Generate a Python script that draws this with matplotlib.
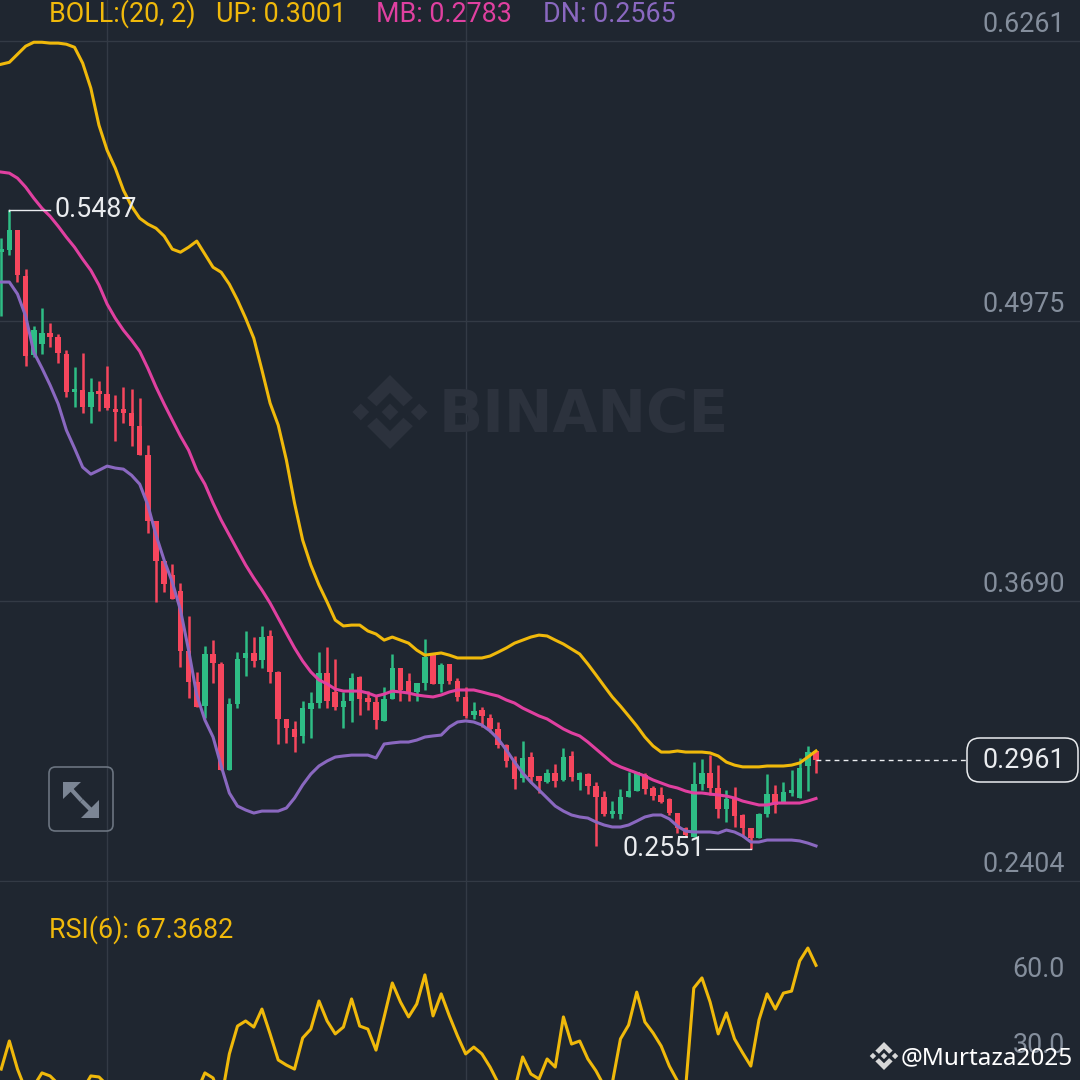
import matplotlib
matplotlib.use("Agg")
import matplotlib.pyplot as plt
import numpy as np
from matplotlib.patches import FancyBboxPatch, Polygon
from matplotlib.lines import Line2D
from matplotlib.transforms import offset_copy

plt.rcParams['font.family'] = ['Roboto', 'DejaVu Sans']

opens = [
    .5291, .5300, .5392, .5181, .4818, .4869, .4919, .4901, .4823, .4649,
    .4658, .4580, .4653, .4640, .4571, .4571, .4552, .4493, .4360, .4057,
    .3873, .3808, .3735, .3460, .3318, .3207, .3446, .3400, .2914, .3217,
    .3428, .3451, .3419, .3529, .3364, .3148, .3102, .3070, .3194, .3221,
    .3359, .3272, .3203, .3230, .3341, .3244, .3226, .3139, .3240, .3382,
    .3322, .3272, .3313, .3446, .3309, .3400, .3322, .3249, .3166, .3189,
    .3152, .3102, .3028, .2955, .2877, .2973, .2886, .2858, .2900, .2868,
    .2978, .2868, .2895, .2840, .2790, .2712, .2712, .2790, .2817, .2891,
    .2831, .2799, .2780, .2716, .2647, .2606, .2849, .2900, .2831, .2734,
    .2785, .2707, .2647, .2601, .2712, .2803, .2767, .2808, .2785, .2932,
    .3001]
closes = [
    .5300, .5392, .5186, .4814, .4933, .4919, .4901, .4827, .4649, .4662,
    .4580, .4649, .4640, .4575, .4557, .4552, .4493, .4360, .4057, .3873,
    .3767, .3699, .3460, .3318, .3203, .3446, .3405, .2914, .3217, .3423,
    .3451, .3414, .3524, .3364, .3148, .3106, .3065, .3198, .3221, .3359,
    .3230, .3203, .3230, .3336, .3240, .3226, .3143, .3240, .3382, .3281,
    .3272, .3313, .3433, .3309, .3396, .3322, .3249, .3162, .3184, .3162,
    .3102, .3028, .2955, .2872, .2969, .2881, .2863, .2900, .2863, .2973,
    .2881, .2900, .2840, .2790, .2712, .2725, .2790, .2817, .2904, .2826,
    .2794, .2767, .2716, .2647, .2615, .2849, .2900, .2831, .2734, .2780,
    .2702, .2647, .2601, .2712, .2803, .2753, .2813, .2822, .2923, .2996,
    .2961]
highs = [
    .5356, .5487, .5392, .5213, .4951, .5034, .4965, .4915, .4841, .4763,
    .4827, .4713, .4699, .4768, .4635, .4672, .4662, .4621, .4405, .4057,
    .3873, .3859, .3772, .3621, .3364, .3483, .3510, .3409, .3244, .3455,
    .3551, .3524, .3575, .3556, .3368, .3148, .3139, .3230, .3272, .3455,
    .3478, .3423, .3272, .3359, .3345, .3277, .3258, .3295, .3446, .3382,
    .3359, .3313, .3515, .3451, .3405, .3400, .3336, .3295, .3226, .3203,
    .3171, .3134, .3033, .2978, .3047, .2996, .2886, .2918, .2941, .3015,
    .3001, .2904, .2900, .2858, .2817, .2771, .2826, .2904, .2904, .2900,
    .2840, .2836, .2785, .2716, .2652, .2950, .2964, .2982, .2936, .2822,
    .2836, .2712, .2647, .2716, .2895, .2845, .2858, .2914, .2969, .3024,
    .3001]
lows = [
    .4998, .5278, .5154, .4768, .4809, .4823, .4855, .4782, .4626, .4580,
    .4552, .4507, .4561, .4566, .4424, .4507, .4401, .4360, .4002, .3685,
    .3731, .3699, .3386, .3244, .3203, .3152, .3313, .2914, .2914, .3198,
    .3345, .3386, .3382, .3313, .3033, .3038, .2996, .3038, .3060, .3198,
    .3198, .3189, .3106, .3134, .3166, .3189, .3102, .3139, .3240, .3230,
    .3230, .3230, .3281, .3309, .3272, .3309, .3230, .3152, .3148, .3111,
    .3088, .3015, .2928, .2826, .2858, .2854, .2808, .2854, .2836, .2863,
    .2863, .2822, .2803, .2565, .2702, .2693, .2689, .2790, .2817, .2803,
    .2776, .2762, .2707, .2624, .2606, .2606, .2822, .2799, .2693, .2675,
    .2652, .2606, .2551, .2601, .2698, .2716, .2762, .2794, .2785, .2817,
    .2900]

boll_up = [
    .6154, .6163, .6200, .6237, .6255, .6255, .6251, .6251, .6246, .6232,
    .6159, .6044, .5874, .5759, .5677, .5576, .5502, .5447, .5420, .5401,
    .5365, .5305, .5291, .5314, .5342, .5282, .5222, .5199, .5144, .5071,
    .4988, .4896, .4750, .4598, .4497, .4337, .4139, .3969, .3855, .3763,
    .3685, .3602, .3575, .3579, .3579, .3552, .3538, .3510, .3524, .3510,
    .3496, .3464, .3441, .3446, .3451, .3441, .3428, .3428, .3428, .3428,
    .3437, .3455, .3474, .3496, .3510, .3524, .3533, .3529, .3510, .3492,
    .3469, .3446, .3400, .3350, .3299, .3249, .3207, .3162, .3116, .3065,
    .3024, .2996, .2996, .3001, .2996, .2996, .2996, .2992, .2978, .2950,
    .2936, .2928, .2928, .2928, .2932, .2932, .2932, .2936, .2946, .2973,
    .3001]
boll_mb = [
    .5659, .5654, .5631, .5590, .5539, .5493, .5456, .5410, .5360, .5314,
    .5259, .5208, .5140, .5053, .4988, .4933, .4887, .4836, .4758, .4672,
    .4594, .4520, .4447, .4382, .4290, .4226, .4139, .4061, .3992, .3923,
    .3855, .3795, .3740, .3680, .3611, .3542, .3474, .3414, .3364, .3327,
    .3309, .3285, .3276, .3276, .3276, .3267, .3253, .3262, .3276, .3272,
    .3267, .3258, .3253, .3249, .3258, .3272, .3281, .3281, .3281, .3272,
    .3262, .3253, .3235, .3221, .3198, .3180, .3162, .3148, .3125, .3102,
    .3084, .3070, .3042, .3010, .2978, .2946, .2928, .2914, .2900, .2886,
    .2868, .2854, .2840, .2831, .2817, .2808, .2808, .2803, .2799, .2794,
    .2785, .2771, .2762, .2753, .2753, .2762, .2762, .2762, .2762, .2771,
    .2783]
boll_dn = [
    .5154, .5154, .5099, .4998, .4832, .4759, .4681, .4594, .4474, .4391,
    .4304, .4272, .4290, .4309, .4300, .4295, .4267, .4226, .4130, .3992,
    .3877, .3776, .3648, .3464, .3258, .3143, .3065, .2932, .2808, .2748,
    .2730, .2716, .2725, .2725, .2725, .2739, .2785, .2845, .2895, .2932,
    .2955, .2973, .2978, .2982, .2982, .2982, .2969, .3033, .3038, .3042,
    .3042, .3051, .3065, .3070, .3074, .3111, .3134, .3139, .3134, .3120,
    .3093, .3056, .3005, .2950, .2900, .2858, .2822, .2785, .2748, .2725,
    .2707, .2698, .2693, .2675, .2661, .2652, .2652, .2661, .2679, .2698,
    .2707, .2707, .2689, .2656, .2633, .2629, .2629, .2629, .2624, .2638,
    .2629, .2611, .2583, .2583, .2592, .2592, .2592, .2592, .2588, .2578,
    .2565]
rsi6 = [
    26.4, 37.5, 26.4, 18.2, 19.7, 24.9, 23.7, 20.5, 16.2, 16.2,
    18.2, 23.7, 23.3, 20.1, 16.2, 14.2, 12.2, 10.3, 10.3, 10.3,
    10.3, 10.3, 12.2, 16.2, 17.4, 24.9, 22.9, 14.2, 32.4, 43.4,
    45.4, 43.0, 50.1, 40.3, 30.0, 28.0, 26.4, 38.7, 42.2, 53.3,
    45.4, 40.3, 43.0, 54.1, 43.4, 42.2, 33.9, 47.0, 60.4, 52.9,
    47.0, 52.1, 63.6, 47.4, 56.1, 47.4, 39.5, 32.4, 35.1, 32.4,
    27.2, 20.9, 16.2, 18.2, 31.2, 24.5, 22.5, 30.4, 27.2, 47.0,
    36.3, 37.5, 30.4, 25.7, 19.7, 20.9, 38.3, 43.8, 56.8, 45.0,
    40.7, 35.5, 27.6, 21.7, 18.9, 58.4, 62.4, 52.9, 40.3, 48.6,
    38.3, 32.8, 27.6, 45.8, 56.1, 50.1, 56.4, 57.2, 69.1, 74.2,
    67.3682]

price_ticks = [0.6261, 0.4975, 0.3690, 0.2404]
rsi_ticks = [60.0, 30.0]
last_price = 0.2961

BG = '#1f2630'
GRID = '#333a45'
MUTED = '#848e9c'
GREEN = '#2ebd85'
RED = '#f6465d'
YELLOW = '#f0b90b'
PINK = '#e040a0'
PURPLE = '#8a68c0'
WHITE = '#eaecef'
FS = 19.4


def px(x, y):
    # picture pixels to figure fraction
    return x / 1080, 1 - y / 1080


def fig_poly(fig, pts, color):
    fig.add_artist(Polygon([px(*p) for p in pts], closed=True, facecolor=color,
                           edgecolor='none', transform=fig.transFigure))


def binance_logo(fig, cx, cy, r, color):
    s = r / 110
    shapes = [
        [(0, -110), (68, -42), (40, -17), (0, -57), (-40, -17), (-68, -42)],
        [(0, 110), (68, 42), (40, 17), (0, 57), (-40, 17), (-68, 42)],
        [(-87, -25), (-62, 0), (-87, 25), (-112, 0)],
        [(0, -25), (25, 0), (0, 25), (-25, 0)],
        [(87, -25), (112, 0), (87, 25), (62, 0)],
    ]
    for shape in shapes:
        fig_poly(fig, [(cx + a * s, cy + b * s) for a, b in shape], color)


fig = plt.figure(figsize=(10.8, 10.8), dpi=100, facecolor=BG)
ax = fig.add_axes([0, 199 / 1080, 1, 881 / 1080], facecolor=BG)
ax_rsi = fig.add_axes([0, 0, 1, 199 / 1080], facecolor=BG)

xs = np.arange(len(closes))
grid_x = [13, 57]
xlim = (-0.147, 132.4)

binance_logo(fig, 390, 412, 37, '#2c323d')
fig.text(*px(439, 432), 'BINANCE', color='#2c323d', fontsize=41.8, fontweight='bold',
         family='DejaVu Sans', va='baseline', ha='left', zorder=0.5)

for a in (ax, ax_rsi):
    a.patch.set_alpha(0)
    a.set_xlim(*xlim)
    a.set_xticks(grid_x)
    a.tick_params(axis='x', length=0, labelbottom=False)
    a.grid(True, color=GRID, lw=1.0)
    a.set_axisbelow(True)
    for sp in a.spines.values():
        sp.set_visible(False)
    a.yaxis.tick_right()
    a.tick_params(axis='y', length=0, pad=-11, labelsize=FS, labelcolor=MUTED)

ax.set_ylim(0.2404, 0.6449)
ax.set_yticks(price_ticks)
ax.set_yticklabels(['%.4f' % v for v in price_ticks])
ax_rsi.set_ylim(22.1, 100.66)
ax_rsi.set_yticks(rsi_ticks)
ax_rsi.set_yticklabels(['%.1f' % v for v in rsi_ticks])
ax_rsi.grid(False, axis='y')
ax_rsi.spines['top'].set_visible(True)
ax_rsi.spines['top'].set_color(GRID)
for a, lift in ((ax, 3), (ax_rsi, 1)):
    for t in a.get_yticklabels():
        t.set_ha('right')
        t.set_va('bottom')
        t.set_transform(offset_copy(t.get_transform(), fig, y=lift, units='dots'))

o = np.array(opens)
c = np.array(closes)
colors = [GREEN if b >= a else RED for a, b in zip(opens, closes)]
ax.vlines(xs, lows, highs, colors=colors, linewidth=1.8, zorder=2)
ax.bar(xs, np.maximum(np.abs(c - o), 0.0014), bottom=np.minimum(o, c), width=0.68,
       color=colors, linewidth=0, zorder=2)

ax.plot(xs, boll_up, color=YELLOW, lw=2.2, zorder=3)
ax.plot(xs, boll_mb, color=PINK, lw=2.2, zorder=3)
ax.plot(xs, boll_dn, color=PURPLE, lw=2.2, zorder=3)

# high and low markers
i_hi = int(np.argmax(highs))
i_lo = int(np.argmin(lows))
ax.plot([i_hi, i_hi + 5], [highs[i_hi]] * 2, color=WHITE, lw=1, zorder=4)
ax.plot([i_hi, i_hi], [highs[i_hi], highs[i_hi] - 0.0006], color=WHITE, lw=1, zorder=4)
ax.text(i_hi + 5.6, highs[i_hi], '%.4f' % highs[i_hi], color=WHITE, fontsize=FS,
        va='center', ha='left', zorder=5)
ax.plot([i_lo - 5.5, i_lo], [lows[i_lo]] * 2, color=WHITE, lw=1, zorder=4)
ax.text(i_lo - 5.6, lows[i_lo], '%.4f' % lows[i_lo], color=WHITE, fontsize=FS,
        va='center', ha='right', zorder=5)

# last price line and its box
ax.plot([xs[-1], 118.4], [last_price] * 2, color=WHITE, lw=1, ls=(0, (3.5, 3)), zorder=3)
fig.add_artist(FancyBboxPatch(px(967, 782), 111 / 1080, 44 / 1080,
                              boxstyle='round,pad=0,rounding_size=0.012',
                              facecolor=BG, edgecolor=WHITE, lw=1.1,
                              transform=fig.transFigure))
fig.text(*px(1024, 761), '%.4f' % last_price, color=WHITE, fontsize=FS, va='center', ha='center')

ax_rsi.plot(xs, rsi6, color=YELLOW, lw=2.2)

# legends
for x, label, col in [(49, 'BOLL:(20, 2)', YELLOW), (216, 'UP: 0.3001', YELLOW),
                      (376, 'MB: 0.2783', PINK), (543, 'DN: 0.2565', PURPLE)]:
    fig.text(*px(x, 14), label, color=col, fontsize=FS, va='center', ha='left')
fig.text(*px(49, 930), 'RSI(6): 67.3682', color=YELLOW, fontsize=FS, va='center', ha='left')

# expand button
fig.add_artist(FancyBboxPatch(px(49, 831), 64 / 1080, 64 / 1080,
                              boxstyle='round,pad=0,rounding_size=0.006',
                              facecolor='none', edgecolor='#6b7480', lw=1.2,
                              transform=fig.transFigure))
ICON = '#7b8594'
fig_poly(fig, [(63, 782), (81, 782), (63, 799)], ICON)
fig_poly(fig, [(99, 800), (99, 818), (81, 818)], ICON)
fig.add_artist(Line2D(*zip(px(70, 788), px(80, 799)), color=ICON, lw=3, transform=fig.transFigure))
fig.add_artist(Line2D(*zip(px(83, 802), px(93, 812)), color=ICON, lw=3, transform=fig.transFigure))

# corner watermark
binance_logo(fig, 884, 1056, 14, '#d8d8d8')
fig.text(1073 / 1080, 1 - 1058 / 1080, '@Murtaza2025', color='#ffffff', fontsize=17.5,
         family='Noto Sans', va='center', ha='right', zorder=10)

fig.savefig('out.png', dpi=100, facecolor=BG)
